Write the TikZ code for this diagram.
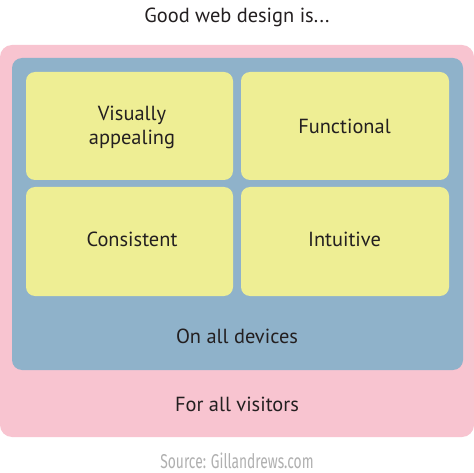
\documentclass[tikz,border=0pt]{standalone}
\usepackage{fontspec}
\setmainfont{PT Sans}
\newfontfamily\srcfont[FakeStretch=0.69]{Fira Sans}
\definecolor{pinkc}{RGB}{248,196,208}
\definecolor{bluec}{RGB}{143,178,202}
\definecolor{yellowc}{RGB}{238,238,148}
\definecolor{txt}{RGB}{35,31,32}
\definecolor{srcc}{RGB}{176,176,176}
\begin{document}
\begin{tikzpicture}[x=1pt,y=-1pt,
  box/.style={fill=yellowc, rounded corners=9pt, draw=none},
  lbl/.style={text=txt, font=\fontsize{20.4}{24}\selectfont, anchor=base, inner sep=0pt}]
\useasboundingbox (0,0) rectangle (474,473);
\fill[white] (0,0) rectangle (474,473);
\node[lbl] (title) at (237,23) {Good web design is...};
\fill[pinkc, rounded corners=12pt] (0,45) rectangle (474,437);
\fill[bluec, rounded corners=10pt] (12,58) rectangle (463,370);
\path[box] (26,72) rectangle (233,180);
\path[box] (241,72) rectangle (449,180);
\path[box] (26,187) rectangle (233,296);
\path[box] (241,187) rectangle (449,296);
\node[lbl] (va1) at (132,121) {Visually};
\node[lbl] (va2) at (132,145) {appealing};
\node[lbl] (fu) at (344.5,134) {Functional};
\node[lbl] (co) at (132,247) {Consistent};
\node[lbl] (in) at (344.5,247) {Intuitive};
\node[lbl] (dev) at (237,343) {On all devices};
\node[lbl] (vis) at (237,411) {For all visitors};
\node[text=srcc, font=\srcfont\fontsize{20}{24}\selectfont, anchor=base, inner sep=0pt] (src) at (237,468) {Source: Gillandrews.com};
\end{tikzpicture}
\end{document}
